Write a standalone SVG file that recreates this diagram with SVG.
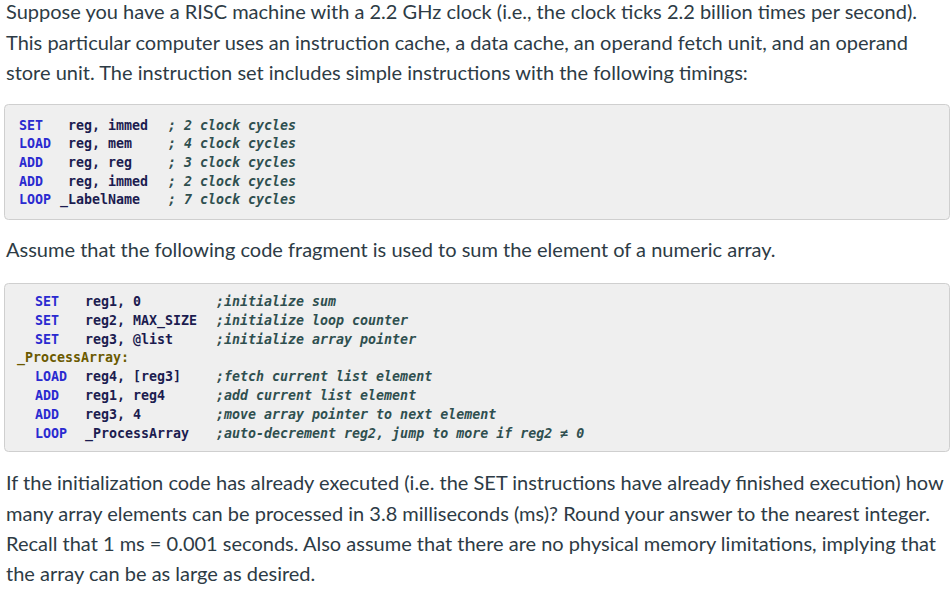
<svg xmlns="http://www.w3.org/2000/svg" width="952" height="597" viewBox="0 0 952 597">
<style>
.p{font-family:Lato,"Liberation Sans",sans-serif;font-size:20px;fill:#2d3b45}
.c{font-family:"DejaVu Sans Mono","Liberation Mono",monospace;font-size:13.3px}
.k{fill:#2a2ad0;font-weight:bold}
.o{fill:#1c1c50;font-weight:bold}
.m{fill:#2f4f4f;font-style:italic;font-weight:bold}
.l{fill:#6b5a00;font-weight:bold}
.box{fill:#efefef;stroke:#cfcfcf;stroke-width:1}
</style>
<rect width="952" height="597" fill="#fff"/>
<g id="para1" class="p">
<text x="6" y="19">Suppose you have a RISC machine with a 2.2 GHz clock (i.e., the clock ticks 2.2 billion times per second).</text>
<text x="6" y="50">This particular computer uses an instruction cache, a data cache, an operand fetch unit, and an operand</text>
<text x="6" y="80">store unit. The instruction set includes simple instructions with the following timings:</text>
</g>
<g id="code1" class="c">
<rect class="box" x="4.5" y="104.5" width="945" height="115" rx="4"/>
<text x="19" y="130" class="k">SET</text><text x="68" y="130" class="o">reg, immed</text><text x="168" y="130" class="m">; 2 clock cycles</text>
<text x="19" y="148" class="k">LOAD</text><text x="68" y="148" class="o">reg, mem</text><text x="168" y="148" class="m">; 4 clock cycles</text>
<text x="19" y="167" class="k">ADD</text><text x="68" y="167" class="o">reg, reg</text><text x="168" y="167" class="m">; 3 clock cycles</text>
<text x="19" y="186" class="k">ADD</text><text x="68" y="186" class="o">reg, immed</text><text x="168" y="186" class="m">; 2 clock cycles</text>
<text x="19" y="204" class="k">LOOP</text><text x="60" y="204" class="o">_LabelName</text><text x="168" y="204" class="m">; 7 clock cycles</text>
</g>
<g id="para2" class="p">
<text x="6" y="257">Assume that the following code fragment is used to sum the element of a numeric array.</text>
</g>
<g id="code2" class="c">
<rect class="box" x="4.5" y="283.5" width="945" height="168" rx="4"/>
<text x="35" y="306" class="k">SET</text><text x="85" y="306" class="o">reg1, 0</text><text x="216" y="306" class="m">;initialize sum</text>
<text x="35" y="325" class="k">SET</text><text x="85" y="325" class="o">reg2, MAX_SIZE</text><text x="216" y="325" class="m">;initialize loop counter</text>
<text x="35" y="344" class="k">SET</text><text x="85" y="344" class="o">reg3, @list</text><text x="216" y="344" class="m">;initialize array pointer</text>
<text x="17" y="362" class="l">_ProcessArray:</text>
<text x="35" y="381" class="k">LOAD</text><text x="85" y="381" class="o">reg4, [reg3]</text><text x="216" y="381" class="m">;fetch current list element</text>
<text x="35" y="400" class="k">ADD</text><text x="85" y="400" class="o">reg1, reg4</text><text x="216" y="400" class="m">;add current list element</text>
<text x="35" y="419" class="k">ADD</text><text x="85" y="419" class="o">reg3, 4</text><text x="216" y="419" class="m">;move array pointer to next element</text>
<text x="35" y="438" class="k">LOOP</text><text x="85" y="438" class="o">_ProcessArray</text><text x="216" y="438" class="m">;auto-decrement reg2, jump to more if reg2 ≠ 0</text>
</g>
<g id="para3" class="p">
<text x="6" y="490">If the initialization code has already executed (i.e. the SET instructions have already finished execution) how</text>
<text x="6" y="521">many array elements can be processed in 3.8 milliseconds (ms)? Round your answer to the nearest integer.</text>
<text x="6" y="551">Recall that 1 ms = 0.001 seconds. Also assume that there are no physical memory limitations, implying that</text>
<text x="6" y="581">the array can be as large as desired.</text>
</g>
</svg>
